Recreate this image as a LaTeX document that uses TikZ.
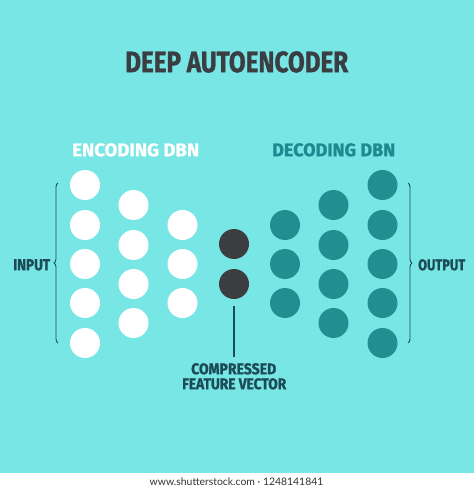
\documentclass[tikz,border=0pt]{standalone}
\usepackage{fontspec}
\setmainfont{Fira Sans}
\newfontfamily\heavy[BoldFeatures={FakeBold=1.2}]{Fira Sans}
\newfontfamily\latofont{Lato}
\usetikzlibrary{decorations.pathreplacing}
\definecolor{bgc}{HTML}{78E6E5}
\definecolor{tealc}{HTML}{1F8F8F}
\definecolor{darkc}{HTML}{3B3D40}
\definecolor{slatec}{HTML}{1B4B57}
\definecolor{titlec}{HTML}{3A3E42}
\definecolor{dectxt}{HTML}{1E8A8F}
\tikzset{
  unit/.style={circle, minimum size=30pt, inner sep=0pt},
  enc/.style={unit, fill=white},
  dec/.style={unit, fill=tealc},
  code/.style={unit, fill=darkc},
  lbl/.style={anchor=north west, inner sep=0pt, font=\heavy\bfseries},
  bracec/.style={draw=slatec, line width=0.9pt, decorate, decoration={brace, amplitude=4pt}},
}
\begin{document}
\begin{tikzpicture}[x=1pt,y=-1pt]
\fill[bgc] (0,0) rectangle (474,473);
\fill[white] (0,473) rectangle (474,489);
\useasboundingbox (0,0) rectangle (474,489);
% texts
\node[lbl, text=titlec] (title) at (125,51) {\resizebox{223pt}{21pt}{DEEP AUTOENCODER}};
\node[lbl, text=white] (enct) at (72,143) {\resizebox{127pt}{13pt}{ENCODING DBN}};
\node[lbl, text=dectxt] (dect) at (272,143) {\resizebox{123pt}{13pt}{DECODING DBN}};
\node[lbl, text=slatec] (inp) at (13,259) {\resizebox{37pt}{11pt}{INPUT}};
\node[lbl, text=slatec] (outp) at (418,259) {\resizebox{47pt}{11pt}{OUTPUT}};
\node[lbl, text=slatec] (comp1) at (191,363) {\resizebox{85pt}{11pt}{COMPRESSED}};
\node[lbl, text=slatec] (comp2) at (182,378) {\resizebox{104pt}{11pt}{FEATURE VECTOR}};
\node[inner sep=0pt, text=black!80, font=\latofont\fontsize{10.4}{12}\selectfont] (wm) at (236.5,481.5) {www.shutterstock.com · 1248141841};
% encoder layers
\foreach \y [count=\i] in {185,225,264,303,343} \node[enc] (a\i) at (85,\y) {};
\foreach \y [count=\i] in {205,245,284,323} \node[enc] (b\i) at (133.5,\y) {};
\foreach \y [count=\i] in {225,264,303} \node[enc] (c\i) at (182.5,\y) {};
% code layer
\node[code] (z1) at (234,244) {};
\node[code] (z2) at (234,284) {};
% decoder layers
\foreach \y [count=\i] in {225,264,303} \node[dec] (d\i) at (285,\y) {};
\foreach \y [count=\i] in {205,245,284,323} \node[dec] (e\i) at (333.5,\y) {};
\foreach \y [count=\i] in {185,225,264,303,343} \node[dec] (f\i) at (382.5,\y) {};
% braces
\coordinate (ib1) at (58,343);
\coordinate (ib2) at (58,183);
\coordinate (ob1) at (408,183);
\coordinate (ob2) at (408,343);
\draw[bracec] (ib1) -- (ib2);
\draw[bracec] (ob1) -- (ob2);
% pointer line
\draw[slatec, line width=1.3pt, shorten <=7pt, shorten >=6pt] (z2.south) -- (z2.south |- comp1.north);
\end{tikzpicture}
\end{document}
